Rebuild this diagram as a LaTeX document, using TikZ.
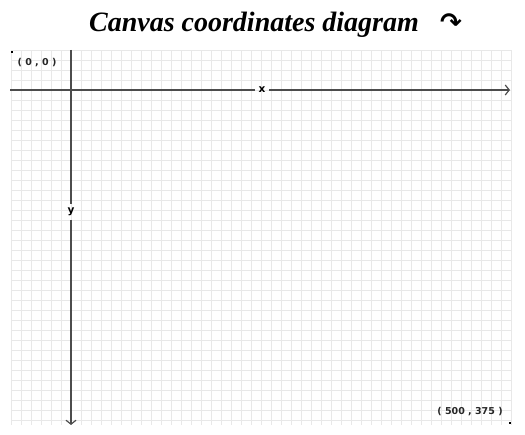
\documentclass[tikz,border=0pt]{standalone}
\usepackage{fontspec}
\newfontfamily\titlefont{Liberation Serif}
\newfontfamily\labelfont{DejaVu Sans}
\usetikzlibrary{arrows.meta}

\begin{document}
\begin{tikzpicture}[x=1pt, y=1pt,
  inner sep=1pt, outer sep=0pt,%
  axis/.style={draw=black!70, line width=1.3pt},
  axis end/.style={axis, -{Straight Barb[length=4pt,width=10pt,line width=1.2pt]}},
  axis label/.style={font=\labelfont\bfseries\fontsize{10.5}{10.5}\selectfont, inner sep=4pt},
  corner label/.style={font=\labelfont\bfseries\fontsize{9.5}{9.5}\selectfont, text=black!85},
  corner dot/.style={fill=black, minimum size=2.8pt, inner sep=0pt},
  canvas grid/.style={draw=black!9, line width=0.8pt},
  title/.style={font=\titlefont\bfseries\itshape\fontsize{28}{28}\selectfont}]

\useasboundingbox (0,0) rectangle (525,435);

% canvas grid, 10 by 10
\begin{scope}[shift={(11,5)}]
\draw[canvas grid, step=10] (0,5) grid (500,380);
\end{scope}

% title
\node[title] (title) at (254,410) {Canvas coordinates diagram};
\node[font=\labelfont\bfseries\fontsize{26}{26}\selectfont] (turn) at (451,412) {↷};

% axes
\coordinate (x start) at (10,345);
\coordinate (x end) at (510,345);
\coordinate (y start) at (71,385);
\coordinate (y end) at (71,10);

\node[axis label] (x label) at (262,345) {x};
\node[axis label] (y label) at (71,223) {y};

\draw[axis] (x start) -- (x label);
\draw[axis end] (x label) -- (x end);
\draw[axis] (y start) -- (y label);
\draw[axis end] (y label) -- (y end);

% corners
\node[corner dot] (origin dot) at (12,383) {};
\node[corner dot] (far dot) at (510,12) {};
\node[corner label] (origin label) at (37,372) {( 0 , 0 )};
\node[corner label] (far label) at (470,23) {( 500 , 375 )};

\end{tikzpicture}
\end{document}
